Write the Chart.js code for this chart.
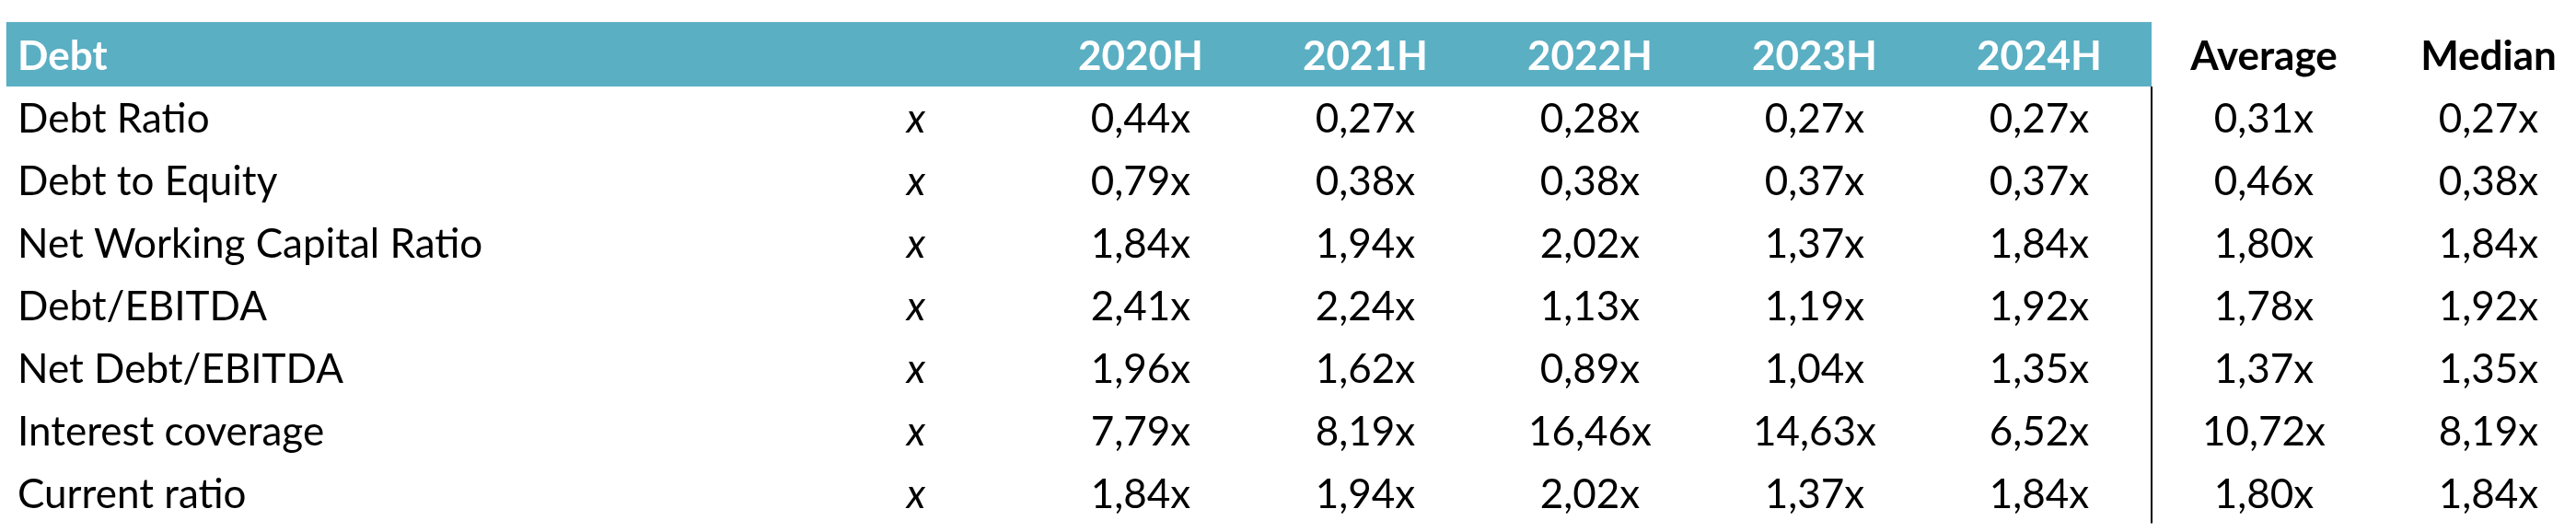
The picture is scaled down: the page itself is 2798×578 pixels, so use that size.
<!DOCTYPE html>
<html>
<head>
<meta charset="utf-8">
<script src="https://cdn.jsdelivr.net/npm/chart.js@4"></script>
<style>
  html, body { margin: 0; padding: 0; background: #fff; }
  #wrap { width: 2798px; height: 578px; }
</style>
</head>
<body>
<div id="wrap"><canvas id="tableChart"></canvas></div>
<script>
const title = 'Debt';
const columns = ['2020H', '2021H', '2022H', '2023H', '2024H', 'Average', 'Median'];
const rowLabels = ['Debt Ratio', 'Debt to Equity', 'Net Working Capital Ratio', 'Debt/EBITDA',
  'Net Debt/EBITDA', 'Interest coverage', 'Current ratio'];
const unit = 'x';
const debtRatio = [0.44, 0.27, 0.28, 0.27, 0.27, 0.31, 0.27];
const debtToEquity = [0.79, 0.38, 0.38, 0.37, 0.37, 0.46, 0.38];
const nwcRatio = [1.84, 1.94, 2.02, 1.37, 1.84, 1.80, 1.84];
const debtEbitda = [2.41, 2.24, 1.13, 1.19, 1.92, 1.78, 1.92];
const netDebtEbitda = [1.96, 1.62, 0.89, 1.04, 1.35, 1.37, 1.35];
const interestCoverage = [7.79, 8.19, 16.46, 14.63, 6.52, 10.72, 8.19];
const currentRatio = [1.84, 1.94, 2.02, 1.37, 1.84, 1.80, 1.84];
const rows = [debtRatio, debtToEquity, nwcRatio, debtEbitda, netDebtEbitda, interestCoverage, currentRatio];

const FONT = 'Lato, "Open Sans", sans-serif';
const fmt = (v) => v.toFixed(2).replace('.', ',') + 'x';

// one scatter point per cell; x = column index (0 = unit column), y = row index (0 = header)
const cells = [];
rows.forEach((vals, r) => {
  vals.forEach((v, c) => cells.push({ x: c + 1, y: r + 1, v }));
});

const tablePlugin = {
  id: 'tablePlugin',
  afterDatasetsDraw(chart) {
    const { ctx, scales: { x, y } } = chart;
    ctx.save();
    // header band
    const bandTop = y.getPixelForValue(-0.56);
    const bandBot = y.getPixelForValue(0.47);
    const bandL = x.getPixelForValue(-4.05);
    const bandR = x.getPixelForValue(5.5);
    ctx.fillStyle = '#5aafc3';
    ctx.fillRect(bandL, bandTop, bandR - bandL, bandBot - bandTop);
    // separator
    ctx.strokeStyle = '#000';
    ctx.lineWidth = 2;
    ctx.beginPath();
    ctx.moveTo(bandR, bandBot);
    ctx.lineTo(bandR, y.getPixelForValue(7.45));
    ctx.stroke();

    ctx.textBaseline = 'middle';
    const labelX = x.getPixelForValue(-4.0);
    // header
    ctx.font = 'bold 44px ' + FONT;
    ctx.fillStyle = '#fff';
    ctx.textAlign = 'left';
    ctx.fillText(title, labelX, y.getPixelForValue(0));
    ctx.textAlign = 'center';
    columns.forEach((c, i) => {
      ctx.fillStyle = i < 5 ? '#fff' : '#000';
      ctx.fillText(c, x.getPixelForValue(i + 1), y.getPixelForValue(0));
    });
    // row labels and units
    ctx.fillStyle = '#000';
    rowLabels.forEach((lab, r) => {
      const py = y.getPixelForValue(r + 1);
      ctx.font = '44px ' + FONT;
      ctx.textAlign = 'left';
      ctx.fillText(lab, labelX, py);
      ctx.font = 'italic 44px ' + FONT;
      ctx.textAlign = 'center';
      ctx.fillText(unit, x.getPixelForValue(0), py);
    });
    // values
    ctx.font = '44px ' + FONT;
    ctx.textAlign = 'center';
    chart.data.datasets[0].data.forEach((p) => {
      ctx.fillText(fmt(p.v), x.getPixelForValue(p.x), y.getPixelForValue(p.y));
    });
    ctx.restore();
  }
};

new Chart(document.getElementById('tableChart'), {
  type: 'scatter',
  data: { datasets: [{ data: cells, pointRadius: 0, pointHoverRadius: 0 }] },
  options: {
    responsive: true,
    maintainAspectRatio: false,
    animation: false,
    layout: { padding: 0 },
    plugins: { legend: { display: false }, tooltip: { enabled: false } },
    scales: {
      x: { type: 'linear', min: -995 / 244, max: (2798 - 995) / 244, display: false },
      y: { type: 'linear', reverse: true, min: -62 / 68, max: (578 - 62) / 68, display: false }
    }
  },
  plugins: [tablePlugin]
});
</script>
</body>
</html>
